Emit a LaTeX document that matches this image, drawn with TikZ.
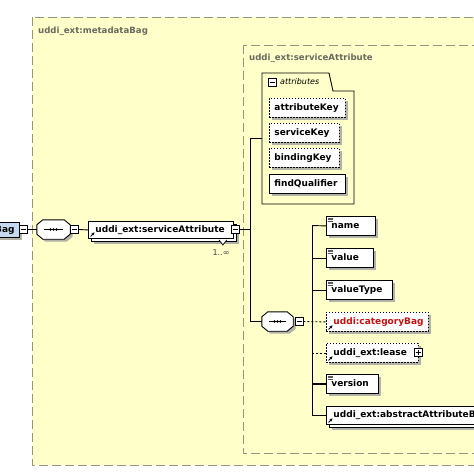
\documentclass[tikz,border=0pt]{standalone}
\usepackage{fontspec}
\setmainfont{DejaVu Sans}
\usetikzlibrary{arrows.meta,shadows}
\definecolor{bgyellow}{RGB}{255,255,202}
\definecolor{dashgray}{RGB}{150,150,128}
\definecolor{labgray}{RGB}{105,105,95}
\definecolor{mdblue}{RGB}{198,216,240}
\definecolor{shadowgray}{RGB}{178,178,168}
\definecolor{refred}{RGB}{200,16,16}
\newcommand\seqpath[1]{([xshift=6pt]#1.north west) -- ([xshift=-6pt]#1.north east) -- ([yshift=-5pt]#1.north east) -- ([yshift=5pt]#1.south east) -- ([xshift=-6pt]#1.south east) -- ([xshift=6pt]#1.south west) -- ([yshift=5pt]#1.south west) -- ([yshift=-5pt]#1.north west) -- cycle}
\newcommand\seqdraw[1]{%
  \fill[shadowgray, transform canvas={shift={(2.5pt,-2.5pt)}}] \seqpath{#1};
  \draw[line width=0.9pt, fill=white] \seqpath{#1};
  \draw[line width=0.8pt] ([xshift=7pt]#1.west) -- ([xshift=-7pt]#1.east);
  \foreach \dx in {-3,0,3}{\fill ([xshift=\dx pt]#1.center) circle (1.3pt);}}
\newcommand\simpleicon[1]{%
  \foreach \dy in {2,3.6,5.2}{\draw[line width=0.7pt, black!65] ([shift={(2pt,-\dy pt)}]#1.north west) -- ++(5pt,0pt);}}
\newcommand\refarrow[1]{%
  \draw[line width=0.9pt, -{Stealth[length=3pt,width=3pt]}] ([shift={(2.5pt,2.5pt)}]#1.south west) -- ++(4pt,4pt);}
\begin{document}
\begin{tikzpicture}[x=1pt,y=-1pt,
  ebase/.style={draw=black, line width=0.9pt, fill=white, anchor=north west,
    inner xsep=5pt, inner ysep=0pt, minimum height=19pt, align=left,
    font=\fontsize{9}{11}\selectfont\bfseries, text height=7pt, text depth=2pt},
  elem/.style={ebase, drop shadow={shadow xshift=3pt, shadow yshift=-3pt, fill=shadowgray, opacity=1}},
  multielem/.style={ebase,
    drop shadow={shadow xshift=6pt, shadow yshift=-6pt, fill=shadowgray, opacity=1},
    copy shadow={shadow xshift=3pt, shadow yshift=-3pt, draw=black, fill=white}},
  opt/.style={dash pattern=on 1.6pt off 1.4pt},
  conn/.style={line width=0.9pt, black},
  optconn/.style={conn, dash pattern=on 2pt off 2pt},
  seqnode/.style={minimum width=#1, minimum height=19pt, inner sep=0pt},
  pmbox/.style={draw=black, fill=white, line width=0.7pt, minimum size=8pt, inner sep=0pt},
  minus/.style={pmbox, path picture={\draw[line width=0.8pt] ([xshift=1.5pt]path picture bounding box.west) -- ([xshift=-1.5pt]path picture bounding box.east);}},
  plus/.style={pmbox, path picture={\draw[line width=0.8pt] ([xshift=1.5pt]path picture bounding box.west) -- ([xshift=-1.5pt]path picture bounding box.east);
     \draw[line width=0.8pt] ([yshift=-1.5pt]path picture bounding box.north) -- ([yshift=1.5pt]path picture bounding box.south);}},
  cont/.style={draw=dashgray, line width=1pt, dash pattern=on 9pt off 4pt, fill=bgyellow},
  contlabel/.style={anchor=west, inner sep=0pt, text=labgray, font=\fontsize{8.6}{10}\selectfont\bfseries}
]
\useasboundingbox (0,0) rectangle (474,474);
\clip (0,0) rectangle (474,474);
\fill[white] (0,0) rectangle (474,474);

% containers
\draw[cont] (32,17) rectangle (500,465);
\node[contlabel] (outerlab) at (38,31) {uddi\_ext:metadataBag};
\draw[cont] (243,45) rectangle (500,453);
\node[contlabel] (innerlab) at (249,58) {uddi\_ext:serviceAttribute};

% left parent element
\node[ebase, fill=mdblue, anchor=east, minimum height=15pt,
  drop shadow={shadow xshift=2.5pt, shadow yshift=-2.5pt, fill=shadowgray, opacity=1}] (md) at (20,229.5) {uddi\_ext:metadataBag};
\node[minus] (mdm) at (23,229.5) {};

% first sequence
\node[seqnode=33pt] (seq1) at (53.5,229.5) {};
\seqdraw{seq1}
\node[minus] (seq1m) at (74.5,229.5) {};

% serviceAttribute
\node[multielem, minimum height=17pt, text width=135pt] (sa) at (88,221) {\hspace*{2pt}uddi\_ext:serviceAttribute};
\refarrow{sa}
\draw[line width=0.8pt, fill=white] ([xshift=-15pt,yshift=-1pt]sa.south east) -- ([xshift=-11pt,yshift=-6pt]sa.south east) -- ([xshift=-7pt,yshift=-1pt]sa.south east);
\node[minus] (sam) at (235,229.5) {};
\node[anchor=center, inner sep=0pt, font=\fontsize{8}{9}\selectfont, text=black!75] (occ) at (221,253) {1..∞};

% trunk coordinates
\coordinate (attrin) at (262,138);
\coordinate (tA) at (250,138);
\coordinate (tB) at (250,229.5);
\coordinate (tC) at (250,321.5);

% attributes group
\draw[line width=0.9pt] (262,73) -- (329,73) -- (333,91) -- (354,91) -- (354,204) -- (262,204) -- cycle;
\node[minus] (attm) at (272,82) {};
\node[anchor=west, inner sep=0pt, font=\fontsize{8}{9}\selectfont\itshape] (attlab) at (280,82) {attributes};
\node[elem, opt, text width=66pt] (ak) at (269,98) {attributeKey};
\node[elem, opt, text width=60pt] (sk) at (269,123) {serviceKey};
\node[elem, opt, text width=60pt] (bk) at (269,148) {bindingKey};
\node[elem, text width=66pt] (fq) at (269,174) {findQualifier};

% second sequence
\node[seqnode=31pt] (seq2) at (277.5,321.5) {};
\seqdraw{seq2}
\node[minus] (seq2m) at (299,321.5) {};
\coordinate (bt) at (312,225.5);

% child elements
\node[elem, text width=39pt] (nm) at (326,216) {name};
\simpleicon{nm}
\node[elem, text width=37pt] (val) at (326,248) {value};
\simpleicon{val}
\node[elem, text width=56pt] (vt) at (326,280) {valueType};
\simpleicon{vt}
\node[elem, opt, text width=92pt, text=refred] (cb) at (326,312) {\hspace*{2pt}uddi:categoryBag};
\refarrow{cb}
\node[elem, opt, text width=82pt] (ls) at (326,343) {\hspace*{2pt}uddi\_ext:lease};
\refarrow{ls}
\node[plus] (lsp) at (418,352.5) {};
\node[elem, text width=42pt] (ver) at (326,374) {version};
\simpleicon{ver}
\node[multielem, minimum height=18pt, text width=170pt] (ab) at (326,406) {\hspace*{2pt}uddi\_ext:abstractAttributeBag};
\refarrow{ab}

% connectors
\draw[conn] (mdm.east) -- (seq1.west);
\draw[conn] (seq1m.east) -- (sa.west);
\draw[conn] (sam.east) -- (tB);
\draw[conn] (attrin) -- (tA) -- (tC) -- (seq2.west);
\draw[optconn] (seq2m.east) -- (cb.west);
\draw[conn] (bt) -- (ab.west -| bt);
\draw[conn] (bt) -- (nm.west);
\draw[conn] (val.west -| bt) -- (val.west);
\draw[conn] (vt.west -| bt) -- (vt.west);
\draw[optconn] (ls.west -| bt) -- (ls.west);
\draw[conn, line width=1.6pt] (ver.west -| bt) -- (ver.west);
\draw[conn] (ab.west -| bt) -- (ab.west);
\end{tikzpicture}
\end{document}
